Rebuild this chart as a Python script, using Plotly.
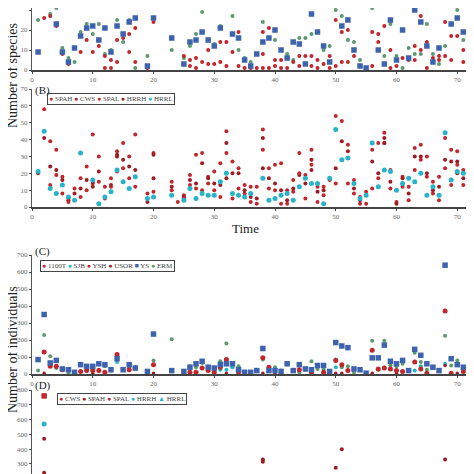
import plotly.graph_objects as go
from plotly.subplots import make_subplots

# ── DATA ──────────────────────────────────────────────────────────────────────
# Panel A (species)
A_BLUE_X = [1,4,5,6,7,8,9,10,11,12,13,14,15,16,17,19,20,23,25,26,27,28,29,30,31,33,34,35,36,37,38,39,40,41,42,43,44,45,46,47,48,49,50,51,52,53,54,55,57,58,59,60,61,62,63,64,65,66,67,69,70,71,72]
A_BLUE_Y = [9,23,9,4,11,17,21,22,15,21,9,22,18,24,26,2,26,16,3,14,15,19,15,12,21,18,16,5,2,8,14,16,20,10,6,14,13,3,28,19,12,4,34,22,25,10,2,1,10,3,25,5,20,6,30,24,12,4,11,23,26,19,2]
A_RED_X = [2,3,4,5,6,8,9,10,11,12,12,13,13,14,14,15,16,16,17,17,19,20,25,26,26,27,27,28,29,29,30,31,31,32,32,33,34,34,35,36,37,38,38,38,39,39,40,40,41,41,42,43,44,44,45,46,46,47,47,48,49,49,50,50,51,51,52,52,53,54,56,56,57,57,58,58,59,59,60,61,62,63,63,64,64,65,65,66,67,67,68,68,69,69,70,71,71,72]
A_RED_Y = [26,27,22,8,3,9,15,9,12,1,7,1,5,4,15,16,9,18,4,21,1,24,7,2,5,1,6,4,3,10,3,4,14,2,14,9,2,19,1,1,1,1,8,19,1,21,2,5,1,5,1,4,2,7,7,2,7,1,5,3,1,7,2,25,4,19,4,20,7,2,2,19,18,14,3,22,1,10,2,6,5,5,12,10,27,1,14,6,5,7,7,24,5,17,17,4,10,1]
A_GREEN_X = [1,3,4,5,6,7,8,9,10,11,12,13,14,15,16,17,19,20,23,25,26,27,28,30,31,33,34,35,36,37,38,40,42,43,44,45,46,47,48,49,50,51,52,53,54,55,56,57,58,59,60,61,62,63,64,65,66,67,68,69,70,71,72]
A_GREEN_Y = [25,28,31,11,6,4,19,23,18,23,8,10,25,14,25,1,7,34,10,6,12,18,29,13,22,27,10,6,4,8,24,15,8,5,16,16,18,19,10,12,30,27,15,14,5,1,31,34,7,23,7,1,11,8,8,23,8,3,12,32,30,15,11]

# Panel B (species)
B_HRRL_X = [1,2,3,4,5,6,7,8,10,11,12,13,14,15,16,17,19,20,23,25,26,27,28,29,30,31,32,33,34,35,36,38,39,40,41,42,43,44,45,46,47,48,49,50,51,52,53,54,55,56,57,58,59,60,61,62,63,64,65,66,67,68,69,70,71,72]
B_HRRL_Y = [21,45,11,8,13,6,4,32,16,2,6,9,22,15,11,18,5,6,7,4,11,5,8,7,7,15,20,8,7,6,8,17,4,5,7,8,4,12,17,14,14,2,17,46,28,29,14,5,7,38,12,22,21,10,14,17,15,20,7,12,7,44,16,21,20,7]
B_SPAH_X = [2,3,4,5,6,7,8,9,10,11,12,13,14,15,16,17,19,20,23,24,25,26,27,28,29,30,31,32,33,34,35,36,37,38,39,40,41,42,43,44,45,46,47,48,49,50,51,52,53,54,55,56,57,58,59,60,61,62,63,64,65,66,67,68,69,70,71,72]
B_SPAH_Y = [58,39,34,18,5,11,17,24,43,30,12,17,33,38,30,43,8,32,15,3,7,19,31,32,18,21,26,45,27,23,13,12,12,46,23,25,26,10,16,32,19,34,12,12,16,54,51,37,16,6,9,34,38,44,22,3,18,12,35,37,30,15,18,41,34,33,22,5]
B_CWS_X = [2,3,4,5,6,7,8,9,10,11,12,13,14,15,16,17,19,20,23,25,26,27,28,29,30,31,32,33,34,35,36,37,38,39,40,41,42,43,44,45,46,47,48,50,51,52,53,54,56,57,58,59,60,61,62,63,64,65,66,67,68,69,70,71,72]
B_CWS_Y = [41,24,22,16,4,8,11,16,12,21,6,13,30,28,24,22,3,17,12,6,16,14,26,17,14,13,38,20,20,10,6,5,41,17,14,10,4,11,19,14,28,9,10,23,39,33,11,4,27,20,41,15,2,17,8,30,30,20,10,12,28,27,27,17,2]
B_SPAL_X = [3,4,5,6,8,9,10,11,12,13,14,15,16,17,20,23,25,26,27,28,29,30,31,32,33,34,35,36,37,38,39,40,41,42,43,44,45,46,47,48,50,52,53,54,55,56,57,58,59,61,62,63,64,65,66,67,68,69,70,71,72]
B_SPAL_Y = [13,19,8,3,6,10,14,15,5,12,21,23,17,12,9,10,5,13,11,10,14,10,6,32,5,11,8,3,2,34,11,10,2,2,9,20,5,25,3,7,14,14,8,2,2,11,17,38,11,12,4,22,28,18,8,4,23,13,25,13,2]
B_HRRH_X = [1,10,14,20,32,38,46,58,70]
B_HRRH_Y = [20,15,31,31,17,23,22,38,20]

# Panel C (individuals)
C_YS_X = [1,2,3,4,5,6,7,8,9,10,11,12,13,14,15,16,17,19,20,23,25,26,27,28,29,30,31,32,33,34,35,36,37,38,39,40,41,42,43,44,45,46,47,48,49,50,51,52,53,54,55,56,57,58,59,60,61,62,63,64,65,66,67,68,69,70,71,72]
C_YS_Y = [85,350,65,80,30,25,10,55,45,45,60,55,25,90,25,55,35,15,235,20,15,40,60,75,40,35,55,60,60,25,10,10,20,150,20,20,15,60,20,55,30,25,50,50,15,185,165,155,30,25,5,95,95,170,75,60,80,20,145,110,60,40,20,640,90,55,40,55]
C_1100T_X = [2,3,4,5,8,9,10,11,12,14,16,17,20,26,27,28,29,30,31,32,34,38,39,44,46,48,50,51,52,56,57,58,59,60,61,63,64,65,68,69,71]
C_1100T_Y = [130,45,45,25,15,20,20,20,10,115,25,35,55,10,10,35,20,10,40,85,10,95,40,25,10,10,80,55,20,140,30,35,30,20,15,70,30,5,370,5,15]
C_ERM_X = [1,2,3,4,5,6,7,9,10,11,12,13,14,15,16,17,20,23,26,27,28,30,31,32,33,34,37,38,40,41,43,44,45,46,47,48,50,51,52,53,56,57,58,59,60,61,63,64,65,67,68,69,70,71,72]
C_ERM_Y = [20,230,105,35,25,5,10,30,35,25,45,20,85,30,40,40,80,205,45,40,65,30,75,180,40,45,25,85,40,20,25,10,25,75,30,25,85,40,45,10,195,25,195,50,45,60,125,70,25,25,225,50,80,35,5]
C_SJB_X = [14,31,32,33,40,46,50,58,63,64,68]
C_SJB_Y = [70,25,25,40,30,10,40,35,20,45,60]
C_USOR_X = [2,10,20,32,38,40,50,51,56,60,68,70]
C_USOR_Y = [5,5,5,5,5,5,5,5,5,5,50,5]

# Panel D (individuals)
D_CWS_X = [2]
D_CWS_Y = [760]
D_HRRH_X = [2]
D_HRRH_Y = [570]
D_SPAH_X = [2,2,38,38,50,51,68]
D_SPAH_Y = [470,240,330,315,275,400,330]

RED = "#c0262c"
DRED = "#9e1b24"
BLUE = "#3e63ad"
CYAN = "#27b3c8"
GREEN = "#5c9870"
FONT = "Liberation Serif"

# the page body adds an 8 px offset; positions below are given in target pixels
OFF = 8
W = H = 474
L, R, T, B = 32 - OFF, W - (470 - OFF), 0, OFF
PW = W - L - R
PH = H - T - B

def px(x):  # target pixel -> paper x
    return (x - OFF - L) / PW

def py(y):  # target pixel -> paper y
    return 1 - (y - OFF - T) / PH

fig = make_subplots(rows=4, cols=1)

def pts(x, y, color, size, symbol="circle", row=1):
    fig.add_trace(go.Scatter(x=x, y=y, mode="markers",
                             marker=dict(color=color, size=size, symbol=symbol),
                             showlegend=False), row=row, col=1)

pts(A_GREEN_X, A_GREEN_Y, GREEN, 4, row=1)
pts(A_RED_X, A_RED_Y, RED, 4, row=1)
pts(A_BLUE_X, A_BLUE_Y, BLUE, 5.5, "square", row=1)

pts(B_SPAH_X, B_SPAH_Y, RED, 4, row=2)
pts(B_CWS_X, B_CWS_Y, DRED, 4, row=2)
pts(B_SPAL_X, B_SPAL_Y, RED, 4, row=2)
pts(B_HRRH_X, B_HRRH_Y, DRED, 4, row=2)
pts(B_HRRL_X, B_HRRL_Y, CYAN, 5, row=2)

pts(C_ERM_X, C_ERM_Y, GREEN, 4, row=3)
pts(C_SJB_X, C_SJB_Y, CYAN, 4, row=3)
pts(C_USOR_X, C_USOR_Y, DRED, 3.5, row=3)
pts(C_1100T_X, C_1100T_Y, RED, 5, row=3)
pts(C_YS_X, C_YS_Y, BLUE, 5.5, "square", row=3)

pts(D_SPAH_X, D_SPAH_Y, DRED, 4, row=4)
pts(D_HRRH_X, D_HRRH_Y, CYAN, 5, row=4)
pts(D_CWS_X, D_CWS_Y, RED, 5.5, "square", row=4)

domains = [(py(70), 1.0), (py(207), py(89)), (py(374), py(255)), (0.0, py(390))]
ranges = [(0, 31), (0, 70), (0, 700), (232, 800)]
dticks = [10, 10, 100, 100]
for i in range(4):
    n = "" if i == 0 else str(i + 1)
    fig.layout["yaxis" + n].update(
        domain=domains[i], range=ranges[i], dtick=dticks[i],
        showgrid=False, zeroline=False, showline=True, linecolor="#555",
        ticks="outside", ticklen=2, tickfont=dict(size=7, color="#666"))
    fig.layout["xaxis" + n].update(
        range=[0, 72.1], dtick=10, showgrid=False, zeroline=False,
        showline=(i < 3), linecolor="#444", linewidth=1.5,
        ticks="outside", ticklen=2, showticklabels=(i < 3),
        tickfont=dict(size=7, color="#666"))

def legend_box(text, x, y):
    fig.add_annotation(text=text, x=px(x), y=py(y), xref="paper", yref="paper",
                       xanchor="left", yanchor="top", showarrow=False,
                       bordercolor="#444", borderwidth=1, borderpad=1,
                       bgcolor="white", font=dict(family=FONT, size=7, color="#444"))

def dot(c, s="●"):
    return f"<span style='color:{c}'>{s}</span>"

legend_box(" ".join([dot(RED) + " SPAH", dot(DRED) + " CWS", dot(RED) + " SPAL",
                      dot(DRED) + " HRRH", dot(CYAN) + " HRRL"]), 47, 93)
legend_box(" ".join([dot(RED) + " 1100T", dot(CYAN) + " SJB", dot(RED) + " YSH",
                      dot(DRED) + " USOR", dot(BLUE, "■") + " YS", dot(GREEN) + " ERM"]), 40, 260)
legend_box(" ".join([dot(RED) + " CWS", dot(DRED) + " SPAH", dot(RED) + " SPAL",
                      dot(CYAN) + " HRRH", dot(CYAN, "▲") + " HRRL"]), 57, 393)

for lbl, y in [("(B)", 82), ("(C)", 243), ("(D)", 377)]:
    fig.add_annotation(text=lbl, x=px(33), y=py(y), xref="paper", yref="paper",
                       xanchor="left", yanchor="top", showarrow=False,
                       font=dict(family=FONT, size=11, color="#222"))

fig.add_annotation(text="Time", x=px(245), y=py(228), xref="paper", yref="paper",
                   showarrow=False, font=dict(family=FONT, size=13, color="#222"))
for txt, y in [("Number of species", 76), ("Number of individuals", 350)]:
    fig.add_annotation(text=txt, x=px(12), y=py(y), xref="paper", yref="paper",
                       xanchor="center", yanchor="middle", textangle=-90, showarrow=False,
                       font=dict(family=FONT, size=14, color="#222"))

fig.update_layout(width=W, height=H, margin=dict(l=L, r=R, t=T, b=B, autoexpand=False),
                  plot_bgcolor="white", paper_bgcolor="white",
                  font=dict(family=FONT), showlegend=False)

fig.write_html("out.html")
